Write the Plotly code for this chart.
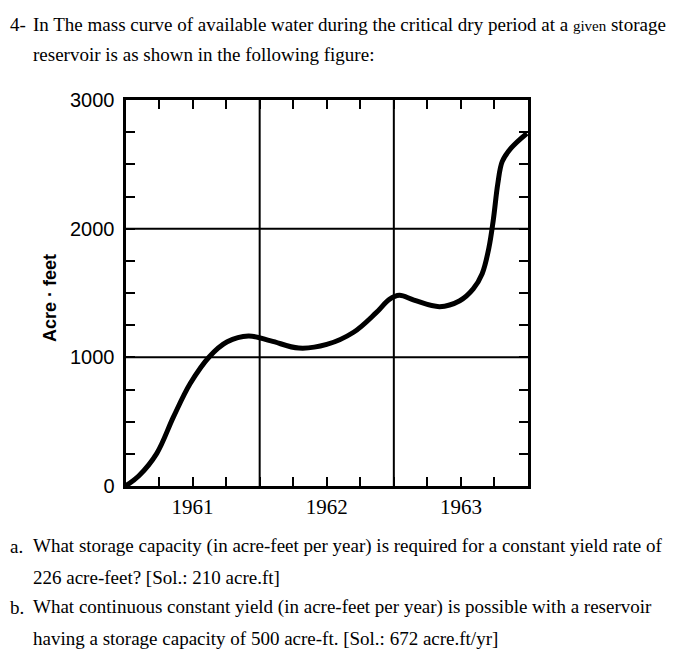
import plotly.graph_objects as go

# ---- data ----
months = [0, 1.2, 2.8, 4.3, 5.8, 7.5, 9.1, 11.0, 13.0, 15.5, 18.0, 20.4, 22.4,
          23.6, 24.5, 25.8, 28.1, 29.9, 31.1, 31.9, 32.5, 32.9, 33.3, 33.7, 34.5, 35.9]
storage = [0, 80, 254, 539, 798, 1005, 1121, 1166, 1128, 1072, 1100, 1195, 1345,
           1450, 1482, 1445, 1394, 1440, 1532, 1650, 1850, 2070, 2350, 2523, 2628, 2741]

x_ticks = [0, 3, 6, 9, 12, 15, 18, 21, 24, 27, 30, 33, 36]
x_labels = ["", "", "1961", "", "", "", "1962", "", "", "", "1963", "", ""]
y_ticks = [0, 250, 500, 750, 1000, 1250, 1500, 1750, 2000, 2250, 2500, 2750, 3000]
y_labels = ["0", "", "", "", "1000", "", "", "", "2000", "", "", "", "3000"]
year_bounds = [12, 24]
grid_levels = [1000, 2000]

question = "In The mass curve of available water during the critical dry period at a <span style='font-size:15px'>given</span> storage"
question2 = "reservoir is as shown in the following figure:"
part_a1 = "What storage capacity (in acre-feet per year) is required for a constant yield rate of"
part_a2 = "226 acre-feet? [Sol.: 210 acre.ft]"
part_b1 = "What continuous constant yield (in acre-feet per year) is possible with a reservoir"
part_b2 = "having a storage capacity of 500 acre-ft. [Sol.: 672 acre.ft/yr]"

W, H = 684, 667
x0, x1 = 125.5, 528
y0, y1 = 100, 486

fig = go.Figure()
fig.add_trace(go.Scatter(x=months, y=storage, mode="lines",
                         line=dict(color="black", width=5, shape="spline", smoothing=1.0),
                         hoverinfo="skip", showlegend=False))

for v in year_bounds:
    fig.add_vline(x=v, line=dict(color="black", width=2), layer="below")
for v in grid_levels:
    fig.add_hline(y=v, line=dict(color="black", width=2), layer="below")

serif = "Liberation Serif"
fig.update_layout(
    width=W, height=H, margin=dict(l=0, r=0, t=0, b=0),
    paper_bgcolor="white", plot_bgcolor="white",
    xaxis=dict(domain=[x0 / W, x1 / W], range=[0, 36], tickvals=x_ticks, ticktext=x_labels,
               ticks="inside", ticklen=9, tickwidth=2, tickcolor="black",
               showline=True, linecolor="black", linewidth=3, mirror="ticks",
               showgrid=False, zeroline=False, automargin=False,
               tickfont=dict(family=serif, size=21, color="black"), ticklabelstandoff=0),
    yaxis=dict(domain=[1 - y1 / H, 1 - y0 / H], range=[0, 3000], tickvals=y_ticks, ticktext=y_labels,
               ticks="inside", ticklen=9, tickwidth=2, tickcolor="black",
               showline=True, linecolor="black", linewidth=3, mirror="ticks",
               showgrid=False, zeroline=False, automargin=False,
               tickfont=dict(family="Liberation Sans", size=20, color="black"), ticklabelstandoff=4),
)

def txt(x, y, s, size=19):
    fig.add_annotation(x=x / W, y=1 - y / H, xref="paper", yref="paper", text=s,
                       showarrow=False, xanchor="left", yanchor="middle",
                       font=dict(family=serif, size=size, color="black"))

txt(8, 24, "4-")
txt(31, 24, question)
txt(31, 54, question2)
txt(8, 546, "a.")
txt(31, 546, part_a1)
txt(31, 577, part_a2)
txt(8, 607, "b.")
txt(31, 607, part_b1)
txt(31, 638, part_b2)

fig.add_annotation(x=50 / W, y=1 - 298 / H, xref="paper", yref="paper", text="<b>Acre · feet</b>",
                   showarrow=False, textangle=-90, xanchor="center", yanchor="middle",
                   font=dict(family="Liberation Sans", size=18, color="black"))

fig.write_html("out.html")
